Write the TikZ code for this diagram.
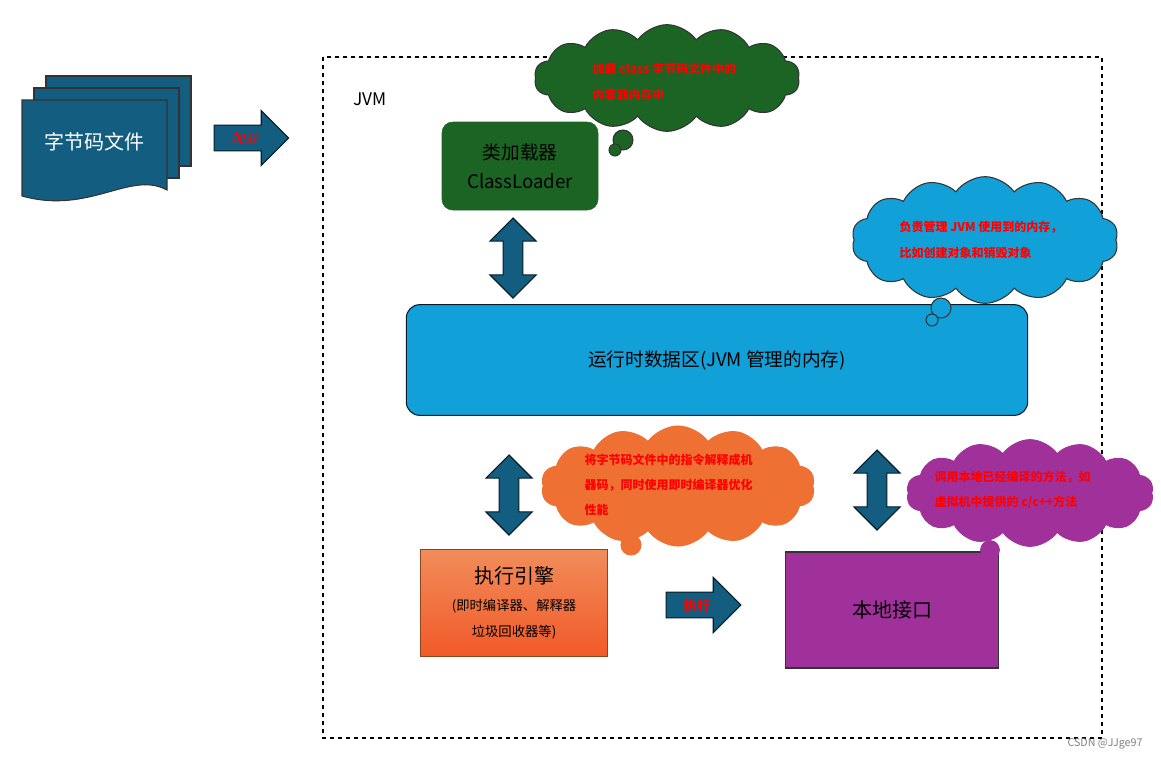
\documentclass[tikz,border=0pt]{standalone}
\usepackage{fontspec}
\setmainfont{Noto Sans CJK SC}
\newfontfamily\slantcjk{Noto Sans CJK SC}[FakeSlant=0.2]
\usetikzlibrary{shapes.symbols,shapes.arrows}
\definecolor{dblue}{HTML}{135E80}
\definecolor{gr}{HTML}{1B6424}
\definecolor{sky}{HTML}{12A0D8}
\definecolor{purp}{HTML}{A0309A}
\definecolor{org}{HTML}{EE7032}
\begin{document}
\begin{tikzpicture}[x=0.75pt,y=-0.75pt,
 dar/.style={single arrow,draw=black!70!dblue,fill=dblue,thick,minimum height=#1,single arrow head extend=11pt,inner xsep=2pt,inner ysep=5pt,text depth=0pt},
 ddar/.style={double arrow,draw=black!70!dblue,fill=dblue,thick,rotate=90,minimum height=60pt,double arrow head extend=10pt,inner xsep=0pt,inner ysep=7pt},
 cl/.style={cloud,cloud puffs=14,cloud puff arc=110,draw=black!80,thick,minimum width=#1,inner sep=0pt},
 ct/.style={text=red,font=\bfseries\fontsize{9}{19}\selectfont,align=left},
 bub/.style={circle,draw=black!80,thick,inner sep=0pt}]
\useasboundingbox (0,0) rectangle (1161,760);
% document stack
\foreach \d/\n in {24/d3,12/d2} \draw[fill=dblue,draw=black!80,thick] (22+\d,100-\d) rectangle (167+\d,190-\d);
\draw[fill=dblue,draw=black!80,thick] (22,100) -- (167,100) -- (167,190) .. controls (130,170) and (90,215) .. (22,196) -- cycle;
\node[text=white,font=\fontsize{15}{18}\selectfont] (doc) at (95,142) {字节码文件};
\node[dar=56pt] (load) at (245,138) {\textcolor{red}{\slantcjk\fontsize{10}{11}\selectfont 加载}};
% JVM box
\draw[dashed,thick] (323,57) rectangle (1102,738);
\node[font=\fontsize{13}{15}\selectfont] (jvm) at (370,99) {JVM};
\node[rounded corners=8pt,fill=gr,draw=gr,minimum width=117pt,minimum height=66pt,align=center,text=black,font=\fontsize{14}{22}\selectfont] (cl) at (520,166) {类加载器\\ClassLoader};
\node[ddar] (a1) at (513,258) {};
\node[rounded corners=10pt,fill=sky,draw=black!70!dblue,thick,minimum width=466pt,minimum height=83pt,font=\fontsize{14}{17}\selectfont] (rt) at (717,360) {运行时数据区(JVM 管理的内存)};
\node[ddar] (a2) at (509,495) {};
\node[ddar] (a3) at (877,490) {};
\node[minimum width=140pt,minimum height=80pt,top color=org!80!white,bottom color=org!80!red,draw=org!60!black,align=center,font=\fontsize{10}{20}\selectfont] (ex) at (514,603) {{\fontsize{15}{20}\selectfont 执行引擎}\\(即时编译器、解释器\\垃圾回收器等)};
\node[dar=56pt] (exa) at (697,605) {\textcolor{red}{\bfseries\fontsize{10}{11}\selectfont 执行}};
\node[fill=purp,draw=black!80,thick,minimum width=160pt,minimum height=87pt,font=\fontsize{15}{18}\selectfont] (nat) at (892,610) {本地接口};
% clouds
\node[bub,fill=gr,minimum size=15pt] (b11) at (623,140) {};
\node[bub,fill=gr,minimum size=9pt] (b12) at (615,150) {};
\node[cl=199pt,minimum height=80pt,fill=gr] (c1) at (667,78) {};
\node[ct,anchor=west] at (588,82) {加载 class 字节码文件中的\\内容到内存中};
\node[bub,fill=sky,minimum size=15pt] (b21) at (941,308) {};
\node[bub,fill=sky,minimum size=9pt] (b22) at (932,320) {};
\node[cl=200pt,minimum height=95pt,fill=sky] (c2) at (985,240) {};
\node[ct,anchor=west] at (895,240) {负责管理 JVM 使用到的内存，\\比如创建对象和销毁对象};
\node[bub,fill=org,draw=org,minimum size=15pt] (b31) at (631,545) {};
\node[cl=205pt,minimum height=90pt,fill=org,draw=org] (c3) at (678,486) {};
\node[ct,anchor=west] at (580,485) {将字节码文件中的指令解释成机\\器码，同时使用即时编译器优化\\性能};
\node[bub,fill=purp,draw=purp,minimum size=14pt] (b41) at (990,550) {};
\node[cl=185pt,minimum height=80pt,fill=purp,draw=purp] (c4) at (1030,493) {};
\node[ct,anchor=west] at (930,490) {调用本地已经编译的方法，如\\虚拟机中提供的 c/c++方法};
\node[text=gray,font=\fontsize{8}{9}\selectfont] (csdn) at (1105,744) {CSDN @JJge97};
\end{tikzpicture}
\end{document}
